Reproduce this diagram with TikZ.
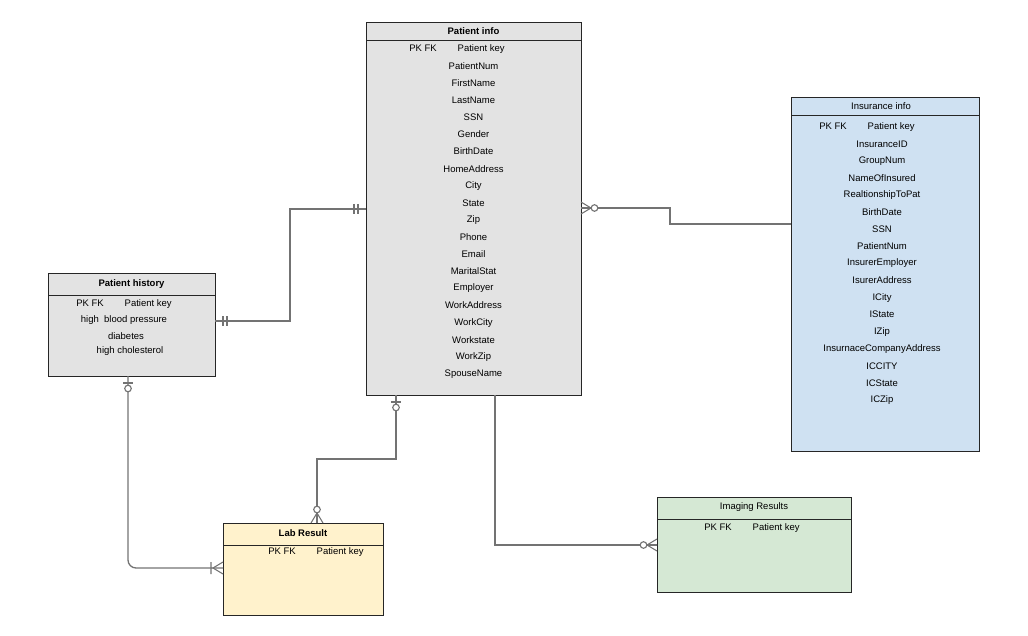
\documentclass[tikz,border=0pt]{standalone}
\usepackage{fontspec}
\setmainfont{Liberation Sans}
\begin{document}
\begin{tikzpicture}[x=1pt,y=-1pt,
  ent/.style={draw=black!85,line width=0.8pt,anchor=north west,inner sep=0pt},
  hdr/.style={font=\fontsize{9.5}{11}\selectfont},
  row/.style={font=\fontsize{9.5}{11}\selectfont,inner sep=0pt},
  conn/.style={draw=black!55,line width=1.3pt},
  mk/.style={draw=black!55,line width=1.1pt},
  oneone/.pic={\draw[mk,x=1pt,y=1pt] (8,-5)--(8,5) (12,-5)--(12,5);},
  zmany/.pic={\draw[mk,x=1pt,y=1pt] (0,-6)--(10,0)--(0,6) (0,0)--(10,0); \draw[mk,x=1pt,y=1pt,fill=white] (13.5,0) circle (3.3);},
  zone/.pic={\draw[mk,x=1pt,y=1pt] (7,-5)--(7,5); \draw[mk,x=1pt,y=1pt,fill=white] (12.5,0) circle (3.3);},
  onemany/.pic={\draw[mk,x=1pt,y=1pt] (0,-6)--(10,0)--(0,6) (12,-6)--(12,6);}
]
\useasboundingbox (0,0) rectangle (1028,636);
% Patient info
\node[ent,fill=black!11,minimum width=215,minimum height=373] (pi) at (366,22) {};
\draw[black!85,line width=0.8pt] (366,40)--(581,40);
\node[hdr,font=\bfseries\fontsize{9.5}{11}\selectfont] (pih) at (473.5,31) {Patient info};
\node[row] (pipk) at (457,49) {PK FK\hspace{2.2em}Patient key};
\foreach \t [count=\i] in {PatientNum,FirstName,LastName,SSN,Gender,BirthDate,HomeAddress,City,State,Zip,Phone,Email,MaritalStat,Employer,WorkAddress,WorkCity,Workstate,WorkZip,SpouseName}
  \node[row] (pir\i) at (473.5,49+17.1*\i) {\t};
% Insurance info
\node[ent,fill=blue!30!cyan!8!white,fill={rgb,255:red,207;green,225;blue,242},minimum width=188,minimum height=354] (ii) at (791,97) {};
\draw[black!85,line width=0.8pt] (791,115)--(979,115);
\node[hdr] (iih) at (881,106) {Insurance info};
\node[row] (iipk) at (867,127) {PK FK\hspace{2.2em}Patient key};
\foreach \t [count=\i] in {InsuranceID,GroupNum,NameOfInsured,RealtionshipToPat,BirthDate,SSN,PatientNum,InsurerEmployer,IsurerAddress,ICity,IState,IZip,InsurnaceCompanyAddress,ICCITY,ICState,ICZip}
  \node[row] (iir\i) at (882,127+17.06*\i) {\t};
% Patient history
\node[ent,fill=black!11,minimum width=167,minimum height=103] (ph) at (48,273) {};
\draw[black!85,line width=0.8pt] (48,295)--(215,295);
\node[hdr,font=\bfseries\fontsize{9.5}{11}\selectfont] (phh) at (131.5,284) {Patient history};
\node[row] (ph1) at (124,304) {PK FK\hspace{2.2em}Patient key};
\node[row] (ph2) at (124,320) {high\ \ blood pressure};
\node[row] (ph3) at (126,336) {diabetes};
\node[row] (ph4) at (130,351) {high cholesterol};
% Lab Result
\node[ent,fill={rgb,255:red,255;green,242;blue,204},minimum width=160,minimum height=92] (lr) at (223,523) {};
\draw[black!85,line width=0.8pt] (223,545)--(383,545);
\node[hdr,font=\bfseries\fontsize{9.5}{11}\selectfont] (lrh) at (303,533) {Lab Result};
\node[row] (lr1) at (316,552) {PK FK\hspace{2.2em}Patient key};
% Imaging Results
\node[ent,fill={rgb,255:red,213;green,232;blue,212},minimum width=194,minimum height=95] (ir) at (657,497) {};
\draw[black!85,line width=0.8pt] (657,519)--(851,519);
\node[hdr] (irh) at (754,507) {Imaging Results};
\node[row] (ir1) at (752,528) {PK FK\hspace{2.2em}Patient key};
% connection points
\coordinate (a1) at (215,321); \coordinate (a2) at (366,209);
\coordinate (b1) at (581,208); \coordinate (b2) at (791,224);
\coordinate (c1) at (396,395); \coordinate (c2) at (317,523);
\coordinate (d1) at (495,395); \coordinate (d2) at (657,545);
\coordinate (e1) at (128,376); \coordinate (e2) at (223,568);
\draw[conn] (a1) -- (290,321) -- (290,209) -- (a2);
\draw[conn] (b1) -- (670,208) -- (670,224) -- (b2);
\draw[conn] (c1) -- (396,459) -- (317,459) -- (c2);
\draw[conn] (d1) -- (495,545) -- (d2);
\draw[conn,rounded corners=8pt] (e1) -- (128,568) -- (e2);
\pic at (a1) {oneone}; \pic[rotate=180] at (a2) {oneone};
\pic at (b1) {zmany};
\pic[rotate=-90] at (c1) {zone}; \pic[rotate=90] at (c2) {zmany};
\pic[rotate=180] at (d2) {zmany};
\pic[rotate=-90] at (e1) {zone}; \pic[rotate=180] at (e2) {onemany};
\end{tikzpicture}
\end{document}
